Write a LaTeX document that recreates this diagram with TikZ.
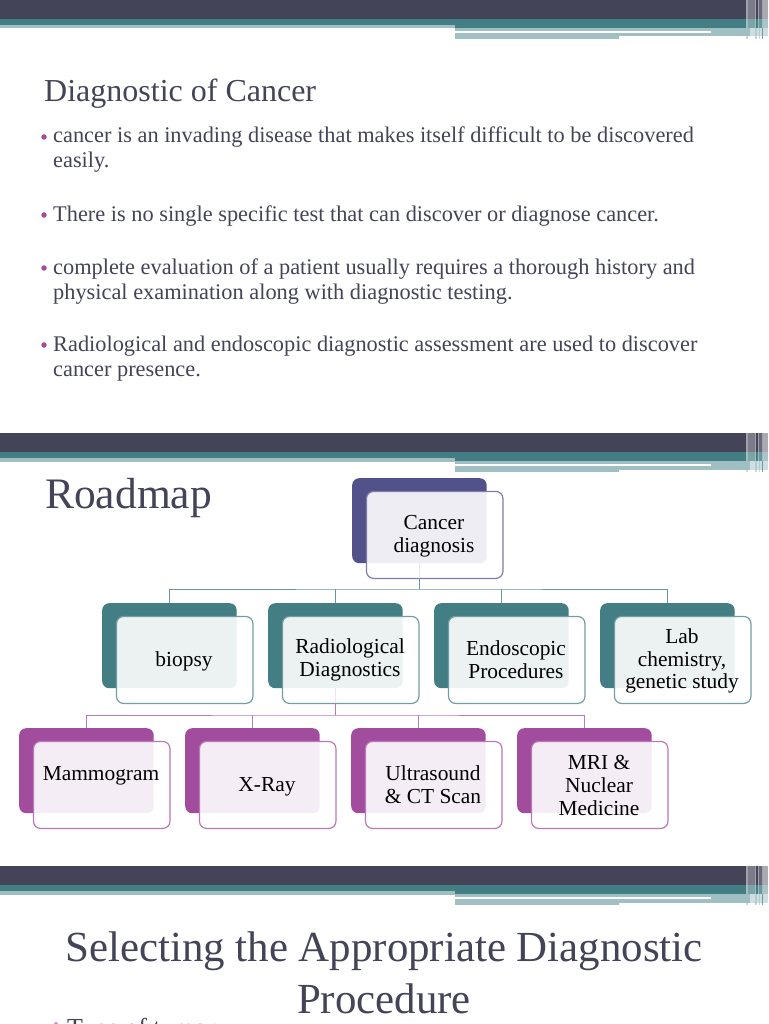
\documentclass[tikz,border=0pt]{standalone}
\usepackage{fontspec}
\setmainfont{Liberation Serif}
\definecolor{darkbar}{HTML}{434457}
\definecolor{tealbar}{HTML}{437E84}
\definecolor{palebar}{HTML}{A0BFC2}
\definecolor{inktext}{HTML}{434457}
\definecolor{bulletc}{HTML}{A24C9E}
\definecolor{rootc}{HTML}{53518A}
\definecolor{midc}{HTML}{437E84}
\definecolor{lowc}{HTML}{A24C9E}
\tikzset{
  backbox/.style={draw=none,rounded corners=7pt,minimum width=134.5pt,minimum height=85pt,anchor=north west,inner sep=0},
  lbl/.style={align=center,font=\fontsize{21.4}{22.8}\selectfont,text=black,inner sep=0},
  body/.style={anchor=north west,align=left,font=\fontsize{22.35}{24.8}\selectfont,text=inktext,inner sep=0},
  bul/.style={circle,fill=bulletc,inner sep=0,minimum size=5.5pt},
  wire/.style={line width=1pt}
}
\newcommand{\headerbar}[1]{%
 \begin{scope}[yshift=#1]
  \fill[darkbar] (0,0) rectangle (768,19);
  \fill[palebar] (0,25) rectangle (455,28.5);
  \fill[palebar] (455,28) rectangle (750,36.5);
  \fill[palebar] (455,33) rectangle (619,39);
  \fill[white] (455,31) rectangle (711,33);
  \fill[tealbar] (0,19) rectangle (768,25);
  \fill[tealbar] (455,25) rectangle (768,28);
  \fill[palebar,opacity=0.5] (750,28) rectangle (768,36.5);
  \fill[palebar,opacity=0.6] (746,36) rectangle (748,39);
  \fill[palebar,opacity=0.6] (755,28) rectangle (757,39);
  \fill[palebar,opacity=0.6] (759,28) rectangle (760,39);
  \fill[tealbar,opacity=0.7] (762,28) rectangle (763,39);
  \fill[white,opacity=0.5] (746,0) rectangle (748,28);
  \fill[white,opacity=0.3] (748,0) rectangle (755,28);
  \fill[white,opacity=0.5] (755,0) rectangle (756,28);
  \fill[white,opacity=0.5] (758,0) rectangle (759,28);
  \fill[white,opacity=0.2] (759,0) rectangle (762,28);
  \fill[white,opacity=0.5] (762,0) rectangle (763,28);
  \fill[white,opacity=0.55] (763,0) rectangle (768,28);
 \end{scope}}
\newcommand{\boxpair}[6]{% name, x, y, colour, text, text y shift
  \node[backbox,fill=#4] (#1b) at (#2,#3) {};
  \node[anchor=north west,minimum width=136pt,minimum height=86.5pt,inner sep=0,draw=none] (#1) at (#2+14.5,#3+13.5) {};
  \begin{scope}
    \clip[rounded corners=7pt] (#1.north west) rectangle (#1.south east);
    \fill[white,opacity=0.9,rounded corners=7pt] (#2-1,#3-1) rectangle (#2+135.5,#3+86);
  \end{scope}
  \draw[#4!75!white,line width=1.2pt,rounded corners=7pt] (#1.north west) rectangle (#1.south east);
  \node[lbl] (#1t) at (#2+82,#3+#6) {#5};
}
\begin{document}
\begin{tikzpicture}[x=1pt,y=-1pt]
\useasboundingbox (0,0) rectangle (768,1024);
\fill[white] (0,0) rectangle (768,1024);
\headerbar{0pt}
\headerbar{-433pt}
\headerbar{-866pt}

\node[anchor=base west,inner sep=0,font=\fontsize{32}{34}\selectfont,text=inktext] (t1) at (44,101.5) {Diagnostic of Cancer};

\node[bul] (b1) at (44,137) {};
\node[body] (p1) at (53,126.7) {cancer is an invading disease that makes itself difficult to be discovered\\easily.};
\node[bul] (b2) at (44,215) {};
\node[body] (p2) at (53,205.7) {There is no single specific test that can discover or diagnose cancer.};
\node[bul] (b3) at (44,268) {};
\node[body] (p3) at (53,258.7) {complete evaluation of a patient usually requires a thorough history and\\physical examination along with diagnostic testing.};
\node[bul] (b4) at (44,345) {};
\node[body] (p4) at (53,335.7) {Radiological and endoscopic diagnostic assessment are used to discover\\cancer presence.};

\node[anchor=base west,inner sep=0,font=\fontsize{43.5}{46}\selectfont,text=inktext] (t2) at (45,508) {Roadmap};

\boxpair{root}{352}{478}{rootc}{Cancer\\diagnosis}{58.5}
\boxpair{a}{102}{603}{midc}{biopsy}{58.5}
\boxpair{b}{268}{603}{midc}{Radiological\\Diagnostics}{57}
\boxpair{c}{434}{603}{midc}{Endoscopic\\Procedures}{56.5}
\boxpair{d}{600}{603}{midc}{Lab\\chemistry,\\genetic study}{58}
\boxpair{e}{19}{728}{lowc}{Mammogram}{48}
\boxpair{f}{185}{728}{lowc}{X-Ray}{58.5}
\boxpair{g}{351}{728}{lowc}{Ultrasound\\\& CT Scan}{56.5}
\boxpair{h}{517}{728}{lowc}{MRI \&\\Nuclear\\Medicine}{57.5}

% connectors run from the centre of the back box
\coordinate (rj) at (rootb.south |- 0,589);
\coordinate (bj) at (bb.south |- 0,715);
\coordinate (rf) at (rootb.south |- root.south);
\coordinate (bf) at (bb.south |- b.south);
\draw[wire,midc!15!white] (rootb.south) -- (rf);
\draw[wire,midc!80!white] (rf) -- (rj);
\draw[wire,midc!80!white] (ab.north) |- (rj) -| (db.north);
\draw[wire,midc!80!white] (bb.north) -- (bb.north |- rj);
\draw[wire,midc!80!white] (cb.north) -- (cb.north |- rj);
\draw[wire,lowc!15!white] (bb.south) -- (bf);
\draw[wire,lowc!75!white] (bf) -- (bj);
\draw[wire,lowc!75!white] (eb.north) |- (bj) -| (hb.north);
\draw[wire,lowc!75!white] (fb.north) -- (fb.north |- bj);
\draw[wire,lowc!75!white] (gb.north) -- (gb.north |- bj);

\node[anchor=base,align=center,inner sep=0,font=\fontsize{42.9}{52}\selectfont,text=inktext] (t3) at (384,1013.5) {Selecting the Appropriate Diagnostic\\Procedure};
\node[bul,minimum size=4pt,fill=bulletc!60!white] (b5) at (56,1024) {};
\node[anchor=base west,inner sep=0,font=\fontsize{26}{28}\selectfont,text=inktext] (p5) at (67,1036) {Type of tumor};
\end{tikzpicture}
\end{document}
